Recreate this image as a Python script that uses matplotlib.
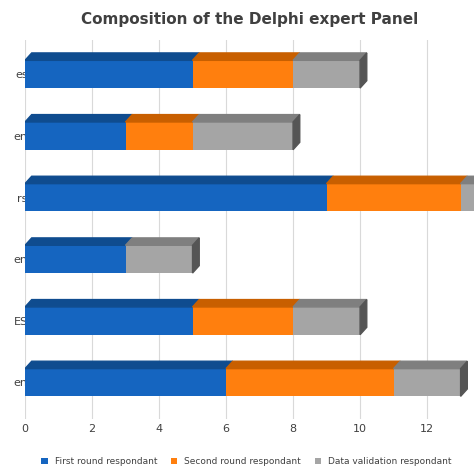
import numpy as np
import matplotlib.pyplot as plt
from matplotlib.patches import Polygon

labels = ["en", "ES", "en", "rs", "en", "es"]
first = [6, 5, 3, 9, 3, 5]
second = [5, 3, 0, 4, 2, 3]
valid = [2, 2, 2, 1, 3, 2]
colors = ["#1565C0", "#FF7F0E", "#A5A5A5"]
tops = ["#0F4C8F", "#C85F00", "#7F7F7F"]
names = ["First round respondant", "Second round respondant", "Data validation respondant"]

fig = plt.figure(figsize=(4.74, 4.74), dpi=100)
ax = fig.add_axes([25/474, 0.115, 1 - 25/474, 0.80])
y = np.arange(len(labels))
h = 0.45
left = np.zeros(len(labels))
for vals, c, t, n in zip([first, second, valid], colors, tops, names):
    vals = np.array(vals)
    ax.barh(y, vals, left=left, height=h, color=c, label=n, zorder=3)
    for yi, l, v in zip(y, left, vals):
        if v > 0:
            ax.add_patch(Polygon([(l, yi + h/2), (l + v, yi + h/2), (l + v + 0.2, yi + h/2 + 0.12),
                                  (l + 0.2, yi + h/2 + 0.12)], closed=True, color=t, zorder=3))
    left = left + vals
for yi, l in zip(y, left):
    ax.add_patch(Polygon([(l, yi - h/2), (l + 0.2, yi - h/2 + 0.12), (l + 0.2, yi + h/2 + 0.12),
                          (l, yi + h/2)], closed=True, color="#555555", zorder=3))

ax.set_xlim(0, 13.4)
ax.set_ylim(-0.6, 5.55)
ax.set_xticks(range(0, 14, 2))
ax.set_yticks(y)
ax.set_yticklabels(labels, color="#404040", fontsize=8)
ax.tick_params(axis="y", length=0, pad=-2)
ax.tick_params(axis="x", length=0, labelsize=8, colors="#404040")
ax.grid(axis="x", color="#D9D9D9", zorder=0)
for s in ax.spines.values():
    s.set_visible(False)
ax.set_title("Composition of the Delphi expert Panel", fontsize=11, fontweight="bold", color="#404040", pad=12)
fig.legend(loc="lower center", ncol=3, frameon=False, fontsize=6.5, handlelength=0.7,
           columnspacing=1.5, bbox_to_anchor=(0.52, 0.0), labelcolor="#404040")
fig.savefig("out.png")
